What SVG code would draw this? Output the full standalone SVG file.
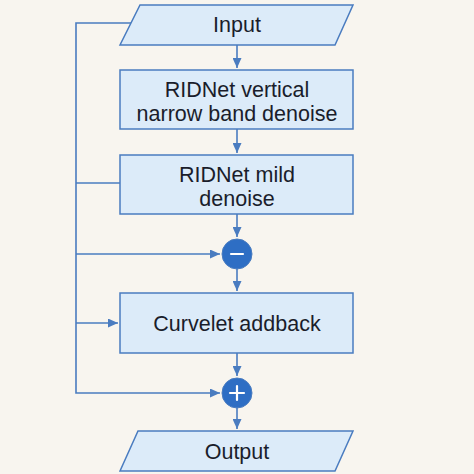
<svg xmlns="http://www.w3.org/2000/svg" width="474" height="474" viewBox="0 0 474 474">
<defs>
<style>
.node{fill:#dcebf9;stroke:#4a7cc0;stroke-width:1.5}
.op{fill:#2e6ec4;stroke:#4a7cc0;stroke-width:1}
.sym{stroke:#ffffff;stroke-width:2.2;stroke-linecap:round}
.lbl{font-family:"Liberation Sans",Arial,sans-serif;font-size:21.5px;fill:#1a1d2b;text-anchor:middle}
.edge{fill:none;stroke:#4a7cc0;stroke-width:1.6}
</style>
<marker id="ah" viewBox="0 0 10 10" refX="10" refY="5" markerWidth="10" markerHeight="9" markerUnits="userSpaceOnUse" orient="auto" preserveAspectRatio="none">
<path d="M0,0 L10,5 L0,10 z" fill="#4a7cc0"/>
</marker>
</defs>
<rect width="474" height="474" fill="#f8f5ef"/>
<g id="connectors">
<path class="edge" d="M237,45 V68" marker-end="url(#ah)"/>
<path class="edge" d="M237,129 V153" marker-end="url(#ah)"/>
<path class="edge" d="M237,214 V237" marker-end="url(#ah)"/>
<path class="edge" d="M237,269 V291" marker-end="url(#ah)"/>
<path class="edge" d="M237,353 V376" marker-end="url(#ah)"/>
<path class="edge" d="M237,408 V429" marker-end="url(#ah)"/>
<path class="edge" d="M131,23 H76 V393 H220" marker-end="url(#ah)"/>
<path class="edge" d="M120,183 H76"/>
<path class="edge" d="M76,254 H220" marker-end="url(#ah)"/>
<path class="edge" d="M76,323 H118" marker-end="url(#ah)"/>
</g>
<g id="input">
<polygon class="node" points="140,5 353,5 335,45 120,45"/>
<text class="lbl" x="237" y="32">Input</text>
</g>
<g id="ridnet-vertical">
<rect class="node" x="120" y="70" width="233" height="59"/>
<text class="lbl" x="237" y="97">RIDNet vertical</text>
<text class="lbl" x="237" y="121">narrow band denoise</text>
</g>
<g id="ridnet-mild">
<rect class="node" x="120" y="155" width="233" height="59"/>
<text class="lbl" x="237" y="182">RIDNet mild</text>
<text class="lbl" x="237" y="206">denoise</text>
</g>
<g id="minus">
<circle class="op" cx="237" cy="254" r="15"/>
<line class="sym" x1="231" y1="254" x2="243" y2="254"/>
</g>
<g id="curvelet">
<rect class="node" x="120" y="293" width="233" height="60"/>
<text class="lbl" x="237" y="331">Curvelet addback</text>
</g>
<g id="plus">
<circle class="op" cx="237" cy="393" r="15"/>
<line class="sym" x1="230" y1="393" x2="244" y2="393"/>
<line class="sym" x1="237" y1="386" x2="237" y2="400"/>
</g>
<g id="output">
<polygon class="node" points="138,431 353,431 335,471 120,471"/>
<text class="lbl" x="237" y="459">Output</text>
</g>
</svg>
